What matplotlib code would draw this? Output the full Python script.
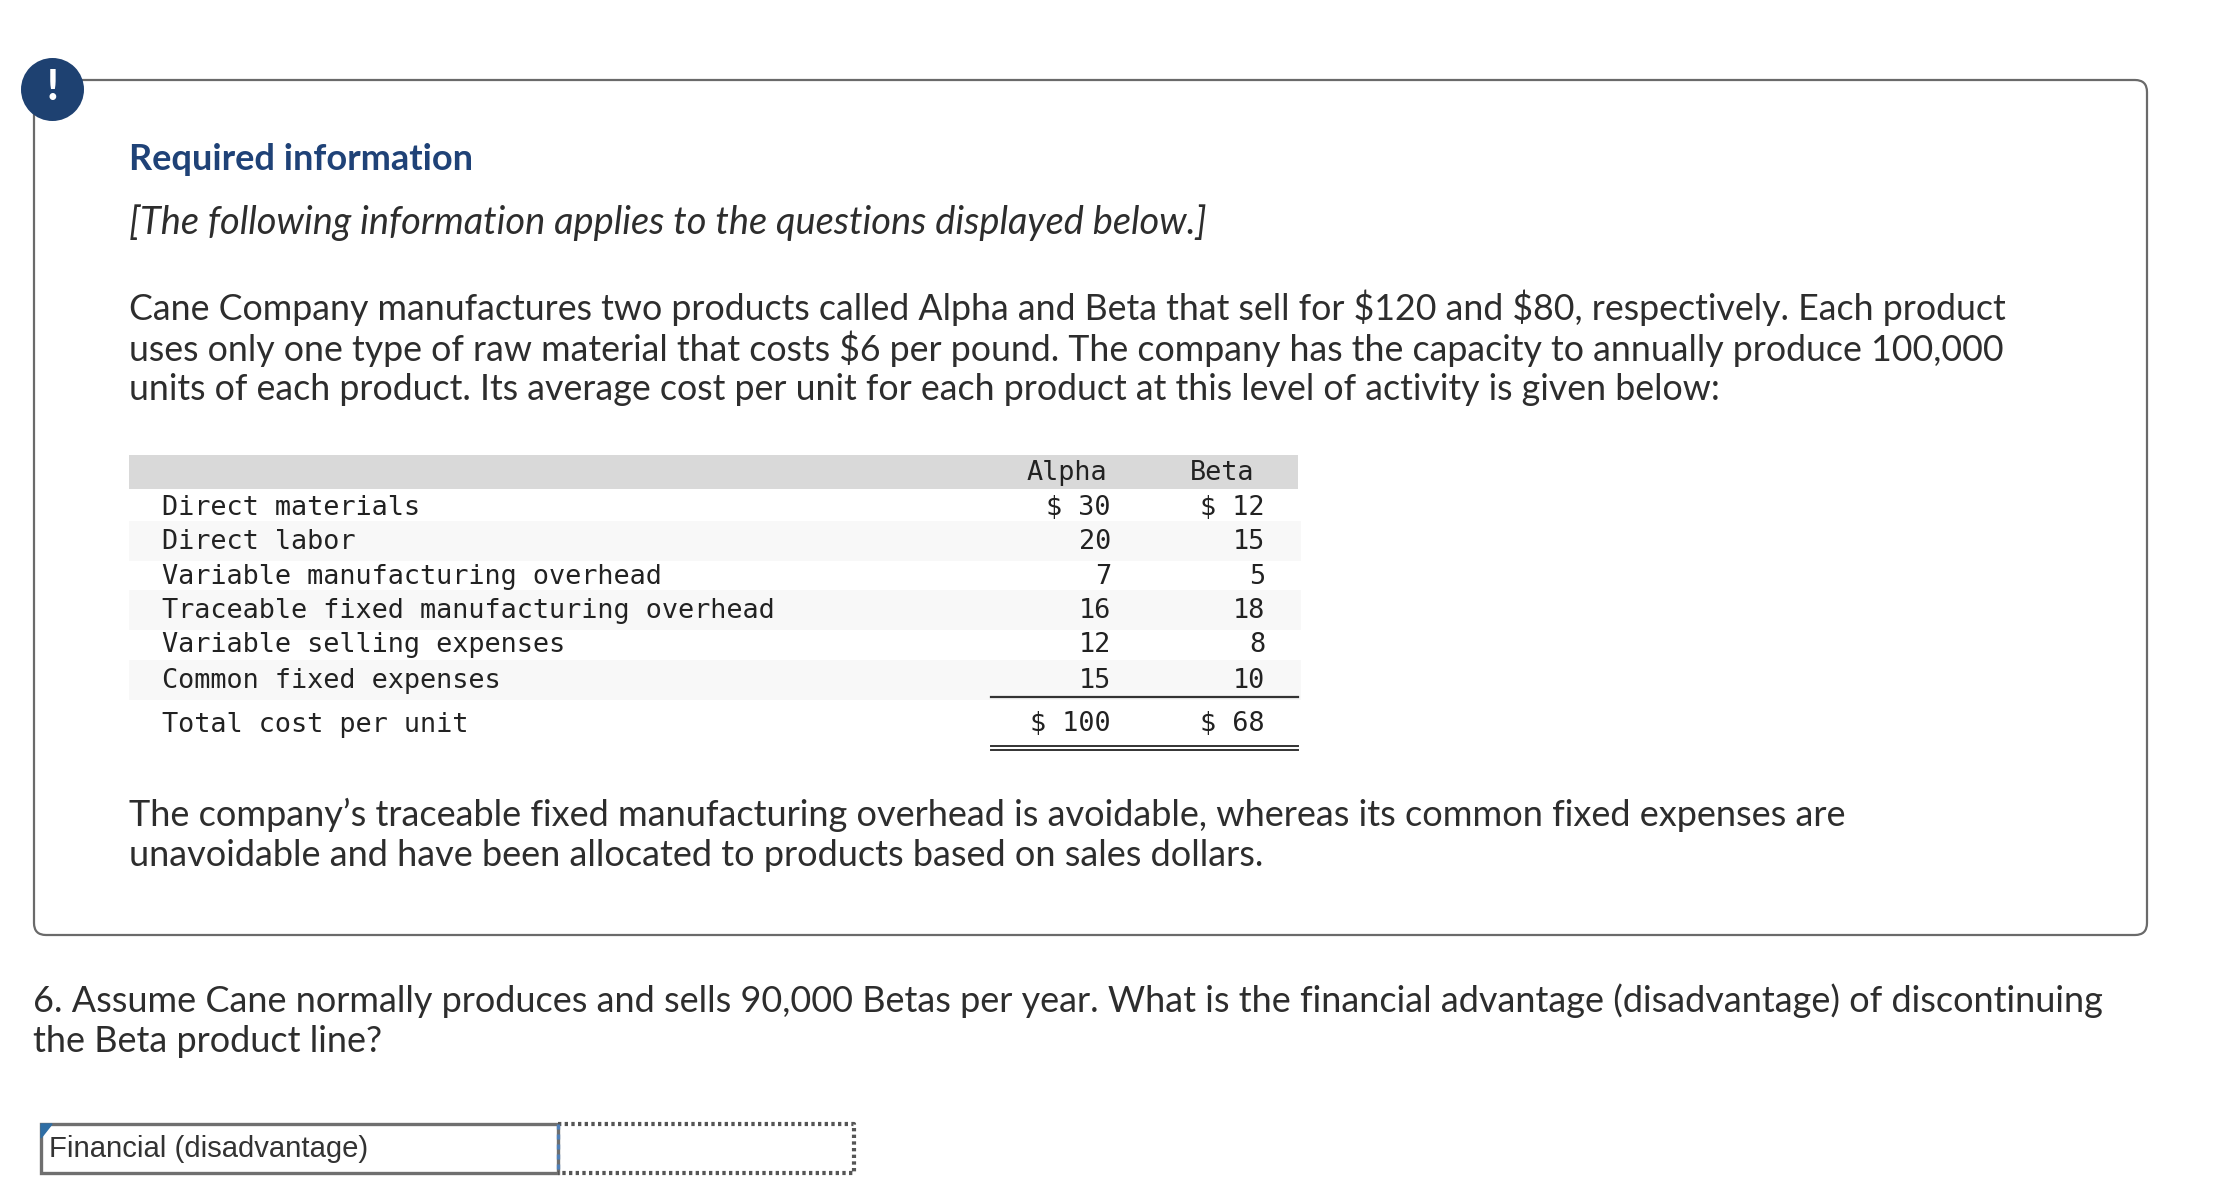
import matplotlib
matplotlib.use("Agg")
import matplotlib.pyplot as plt
from matplotlib.patches import FancyBboxPatch, Rectangle, Ellipse

plt.rcParams["text.parse_math"] = False

heading = "Required information"
note = "[The following information applies to the questions displayed below.]"
para1 = ["Cane Company manufactures two products called Alpha and Beta that sell for $120 and $80, respectively. Each product",
         "uses only one type of raw material that costs $6 per pound. The company has the capacity to annually produce 100,000",
         "units of each product. Its average cost per unit for each product at this level of activity is given below:"]
para2 = ["The company\u2019s traceable fixed manufacturing overhead is avoidable, whereas its common fixed expenses are",
         "unavoidable and have been allocated to products based on sales dollars."]
question = ["6. Assume Cane normally produces and sells 90,000 Betas per year. What is the financial advantage (disadvantage) of discontinuing",
            "the Beta product line?"]
answer_label = "Financial (disadvantage)"
columns = ["Alpha", "Beta"]
rows = ["Direct materials", "Direct labor", "Variable manufacturing overhead",
        "Traceable fixed manufacturing overhead", "Variable selling expenses", "Common fixed expenses"]
alpha = [30, 20, 7, 16, 12, 15]
beta = [12, 15, 5, 18, 8, 10]
total_label = "Total cost per unit"
alpha_total = 100
beta_total = 68

W, H = 2228, 1198
fig = plt.figure(figsize=(W/100, H/100), dpi=100)
ax = fig.add_axes([0, 0, 1, 1])
ax.set_xlim(0, W); ax.set_ylim(H, 0); ax.axis("off")

SANS = "Lato"
MONO = "DejaVu Sans Mono"
TXT = "#2d2d2d"
INK = "#222222"
mono = 19.4

ax.add_patch(FancyBboxPatch((34, 80), 2113, 855, boxstyle="round,pad=0,rounding_size=12",
                            fc="white", ec="#6a6a6a", lw=1.6, zorder=1))
ax.add_patch(Ellipse((52.5, 89.5), 63, 63, fc="#1e4171", ec="none", zorder=2))
ax.text(52.5, 88, "!", color="white", fontsize=30, fontweight="black", family=SANS, ha="center", va="center", zorder=3)

ax.text(129, 160, heading, color="#1f4277", fontsize=26, fontweight="bold", family=SANS, va="center")
ax.text(129, 223, note, color=TXT, fontsize=27.4, style="italic", family=SANS, va="center")
for y, s in zip([308, 349, 390], para1):
    ax.text(129, y, s, color=TXT, fontsize=25.72, family=SANS, va="center")

# table
ax.add_patch(Rectangle((129, 455), 1169, 34, fc="#d9d9d9", ec="none"))
row_y = [508, 542, 577, 611, 645, 681]
for i, (y, lab, a, b) in enumerate(zip(row_y, rows, alpha, beta)):
    if i % 2 == 1:
        ax.add_patch(Rectangle((129, y - 21), 1172, 40, fc="#f8f8f8", ec="none"))
    ax.text(162, y, lab, color=INK, fontsize=mono, family=MONO, va="center")
    ax.text(1111, y, f"$ {a}" if i == 0 else str(a), color=INK, fontsize=mono, family=MONO, va="center", ha="right")
    ax.text(1265, y, f"$ {b}" if i == 0 else str(b), color=INK, fontsize=mono, family=MONO, va="center", ha="right")
ax.text(1067, 473, columns[0], color=INK, fontsize=mono, family=MONO, va="center", ha="center")
ax.text(1222, 473, columns[1], color=INK, fontsize=mono, family=MONO, va="center", ha="center")
ax.text(162, 725, total_label, color=INK, fontsize=mono, family=MONO, va="center")
ax.text(1111, 724, f"$ {alpha_total}", color=INK, fontsize=mono, family=MONO, va="center", ha="right")
ax.text(1265, 724, f"$ {beta_total}", color=INK, fontsize=mono, family=MONO, va="center", ha="right")
ax.plot([991, 1298], [697, 697], color="#333333", lw=1.6)
ax.plot([991, 1298], [746, 746], color="#333333", lw=1.4)
ax.plot([991, 1298], [749.5, 749.5], color="#333333", lw=1.4)

for y, s in zip([815, 856], para2):
    ax.text(129, y, s, color=TXT, fontsize=26, family=SANS, va="center")
for y, s in zip([1001, 1042], question):
    ax.text(33, y, s, color=TXT, fontsize=25.95, family=SANS, va="center")

# answer row
ax.add_patch(Rectangle((41, 1124), 517, 49, fc="white", ec="#6f6f6f", lw=2.4))
ax.plot([558, 854, 854, 558], [1124, 1124, 1173, 1173], color="#555555", lw=3, ls=(0, (0.8, 0.8)))
ax.plot([558, 558], [1124, 1173], color="#4f7fb8", lw=2.4, ls=(0, (1.5, 1.5)))
ax.fill([41, 52, 41], [1124, 1124, 1138], color="#2f6ea5", zorder=4)
ax.text(49, 1149, answer_label, color="#333333", fontsize=21.1, family="Liberation Sans", va="center")

fig.savefig("out.png", dpi=100, facecolor="white")
